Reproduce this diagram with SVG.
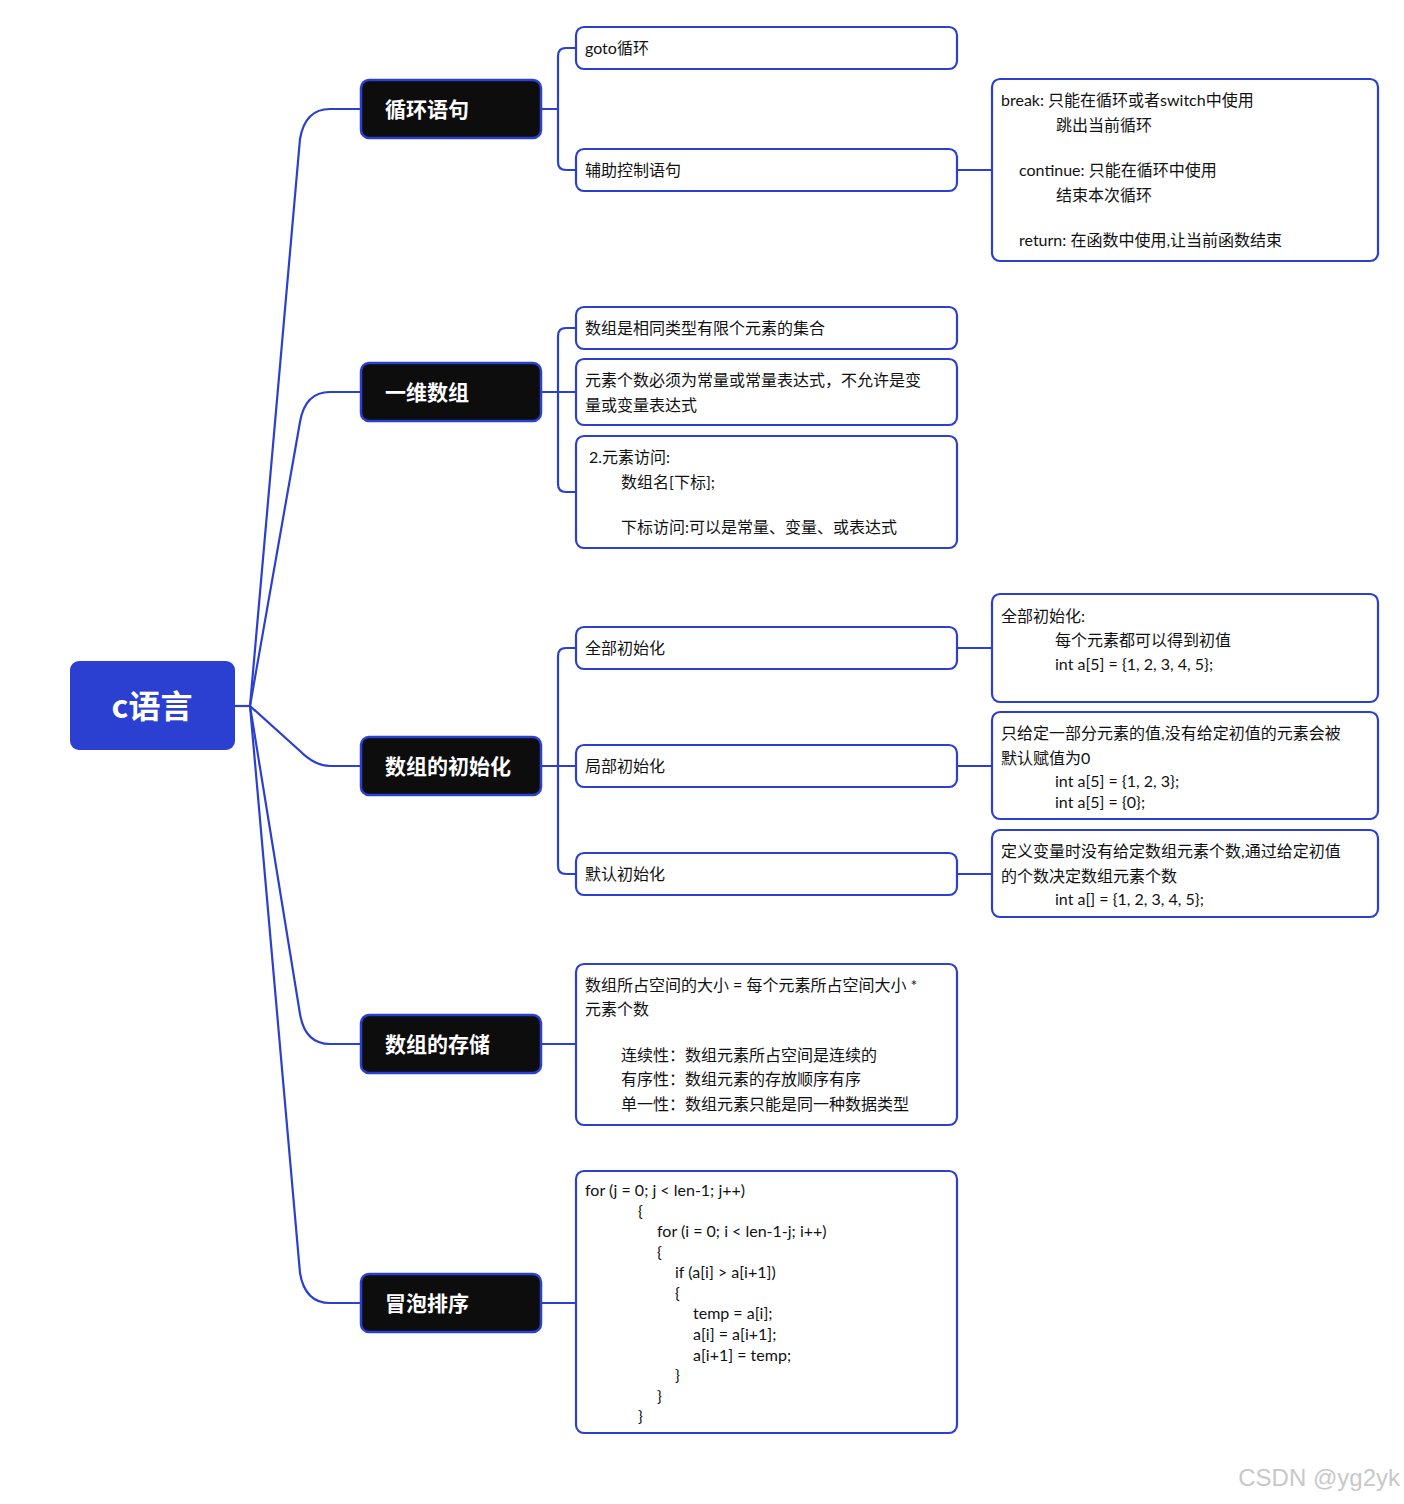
<svg xmlns="http://www.w3.org/2000/svg" width="1404" height="1504" viewBox="0 0 1404 1504">
<style>
.c{fill:none;stroke:#2b3fd1;stroke-width:2.2}
.b{fill:#0d0d0d;stroke:#2b3fd1;stroke-width:2.5}
.l{fill:#fff;stroke:#2b3fd1;stroke-width:2.2}
.bt{font-family:"Noto Sans CJK SC",sans-serif;font-size:21px;font-weight:bold;fill:#fff}
.t{font-family:Lato,"Noto Sans CJK SC",sans-serif;font-size:16px;fill:#111}
</style>
<rect width="1404" height="1504" fill="#fff"/>
<g id="connectors">
<path class="c" d="M235 706H250"/>
<path class="c" d="M250 706L300 139Q305 109 330 109H361"/>
<path class="c" d="M250 706L300 422Q305 392 330 392H361"/>
<path class="c" d="M250 706L300 751Q315 766 330 766H361"/>
<path class="c" d="M250 706L300 1014Q305 1044 330 1044H361"/>
<path class="c" d="M250 706L300 1273Q305 1303 330 1303H361"/>
<path class="c" d="M541 109H558M576 48H566Q558 48 558 56V162Q558 170 566 170H576"/>
<path class="c" d="M957 170H992"/>
<path class="c" d="M541 392H576M576 328H566Q558 328 558 336V484Q558 492 566 492H576"/>
<path class="c" d="M541 766H576M576 648H566Q558 648 558 656V866Q558 874 566 874H576"/>
<path class="c" d="M957 648H992M957 766H992M957 874H992"/>
<path class="c" d="M541 1044H576M541 1303H576"/>
</g>
<g id="root"><rect x="70" y="661" width="165" height="89" rx="9" fill="#2b3fd1"/><text x="152" y="718" text-anchor="middle" font-family="'Noto Sans CJK SC',sans-serif" font-size="32" font-weight="bold" fill="#fff">c语言</text></g>
<g id="n1"><rect class="b" x="361" y="80" width="180" height="58" rx="8"/><text class="bt" x="385" y="117">循环语句</text></g>
<g id="n2"><rect class="b" x="361" y="363" width="180" height="58" rx="8"/><text class="bt" x="385" y="400">一维数组</text></g>
<g id="n3"><rect class="b" x="361" y="737" width="180" height="58" rx="8"/><text class="bt" x="385" y="774">数组的初始化</text></g>
<g id="n4"><rect class="b" x="361" y="1015" width="180" height="58" rx="8"/><text class="bt" x="385" y="1052">数组的存储</text></g>
<g id="n5"><rect class="b" x="361" y="1274" width="180" height="58" rx="8"/><text class="bt" x="385" y="1311">冒泡排序</text></g>
<g id="l1"><rect class="l" x="576" y="27" width="381" height="42" rx="8"/><text class="t" x="585" y="54">goto循环</text></g>
<g id="l2"><rect class="l" x="576" y="149" width="381" height="42" rx="8"/><text class="t" x="585" y="176">辅助控制语句</text></g>
<g id="l2r"><rect class="l" x="992" y="79" width="386" height="182" rx="8"/><text class="t"><tspan x="1001" y="106">break:  只能在循环或者switch中使用</tspan><tspan x="1056" y="131">跳出当前循环</tspan><tspan x="1019" y="176">continue: 只能在循环中使用</tspan><tspan x="1056" y="201">结束本次循环</tspan><tspan x="1019" y="246">return: 在函数中使用,让当前函数结束</tspan></text></g>
<g id="l3"><rect class="l" x="576" y="307" width="381" height="42" rx="8"/><text class="t" x="585" y="334">数组是相同类型有限个元素的集合</text></g>
<g id="l4"><rect class="l" x="576" y="359" width="381" height="66" rx="8"/><text class="t"><tspan x="585" y="386">元素个数必须为常量或常量表达式，不允许是变</tspan><tspan x="585" y="411">量或变量表达式</tspan></text></g>
<g id="l5"><rect class="l" x="576" y="436" width="381" height="112" rx="8"/><text class="t"><tspan x="589" y="463">2.元素访问:</tspan><tspan x="621" y="488">数组名[下标];</tspan><tspan x="621" y="533">下标访问:可以是常量、变量、或表达式</tspan></text></g>
<g id="l6"><rect class="l" x="576" y="627" width="381" height="42" rx="8"/><text class="t" x="585" y="654">全部初始化</text></g>
<g id="l6r"><rect class="l" x="992" y="594" width="386" height="108" rx="8"/><text class="t"><tspan x="1001" y="622">全部初始化:</tspan><tspan x="1055" y="646">每个元素都可以得到初值</tspan><tspan x="1055" y="670">int a[5] = {1, 2, 3, 4, 5};</tspan></text></g>
<g id="l7"><rect class="l" x="576" y="745" width="381" height="42" rx="8"/><text class="t" x="585" y="772">局部初始化</text></g>
<g id="l7r"><rect class="l" x="992" y="712" width="386" height="107" rx="8"/><text class="t"><tspan x="1001" y="739">只给定一部分元素的值,没有给定初值的元素会被</tspan><tspan x="1001" y="764">默认赋值为0</tspan><tspan x="1055" y="787">int a[5] = {1, 2, 3};</tspan><tspan x="1055" y="808">int a[5] = {0};</tspan></text></g>
<g id="l8"><rect class="l" x="576" y="853" width="381" height="42" rx="8"/><text class="t" x="585" y="880">默认初始化</text></g>
<g id="l8r"><rect class="l" x="992" y="830" width="386" height="87" rx="8"/><text class="t"><tspan x="1001" y="857">定义变量时没有给定数组元素个数,通过给定初值</tspan><tspan x="1001" y="882">的个数决定数组元素个数</tspan><tspan x="1055" y="905">int a[] = {1, 2, 3, 4, 5};</tspan></text></g>
<g id="l9"><rect class="l" x="576" y="964" width="381" height="161" rx="8"/><text class="t"><tspan x="585" y="991">数组所占空间的大小 = 每个元素所占空间大小 *</tspan><tspan x="585" y="1015">元素个数</tspan><tspan x="621" y="1061">连续性：数组元素所占空间是连续的</tspan><tspan x="621" y="1085">有序性：数组元素的存放顺序有序</tspan><tspan x="621" y="1110">单一性：数组元素只能是同一种数据类型</tspan></text></g>
<g id="l10"><rect class="l" x="576" y="1171" width="381" height="262" rx="8"/><text class="t"><tspan x="585" y="1196">for (j = 0; j &lt; len-1; j++)</tspan><tspan x="638" y="1217">{</tspan><tspan x="657" y="1237">for (i = 0; i &lt; len-1-j; i++)</tspan><tspan x="657" y="1258">{</tspan><tspan x="675" y="1278">if (a[i] &gt; a[i+1])</tspan><tspan x="675" y="1299">{</tspan><tspan x="693" y="1319">temp = a[i];</tspan><tspan x="693" y="1340">a[i] = a[i+1];</tspan><tspan x="693" y="1361">a[i+1] = temp;</tspan><tspan x="675" y="1381">}</tspan><tspan x="657" y="1402">}</tspan><tspan x="638" y="1422">}</tspan></text></g>
<text x="1400" y="1486" text-anchor="end" font-family="'Liberation Sans',sans-serif" font-size="24" fill="#c8c8c8">CSDN @yg2yk</text>
</svg>
